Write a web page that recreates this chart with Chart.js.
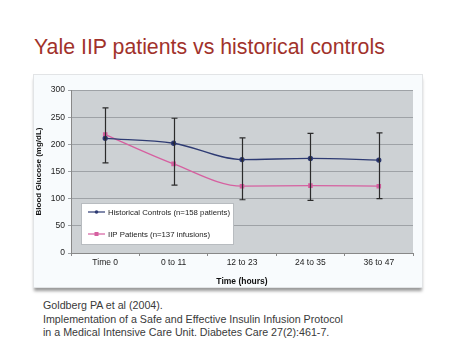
<!DOCTYPE html>
<html>
<head>
<meta charset="utf-8">
<script src="https://cdn.jsdelivr.net/npm/chart.js@4"></script>
<style>
  html, body { margin:0; padding:0; background:#fff; width:474px; height:355px; overflow:hidden; font-family:"Liberation Sans", Arial, sans-serif; }
  #title { position:absolute; left:34px; top:35px; font-size:21.3px; color:#a1322b; white-space:nowrap; }
  #frame { position:absolute; left:33px; top:74px; width:388px; height:212px; background:#f8fbfd; border:1px solid #e2e4e6; box-shadow:0 4px 3px -1px #9a9a9a; }
  #cite { position:absolute; left:43px; top:299px; font-size:10.7px; line-height:13.5px; color:#3a3a3a; white-space:nowrap; }
</style>
</head>
<body>
<div id="title">Yale IIP patients vs historical controls</div>
<div id="frame"><canvas id="c" width="388" height="212"></canvas></div>
<div id="cite">Goldberg PA et al (2004).<br>Implementation of a Safe and Effective Insulin Infusion Protocol<br>in a Medical Intensive Care Unit. Diabetes Care 27(2):461-7.</div>
<script>
const categories = ["Time 0", "0 to 11", "12 to 23", "24 to 35", "36 to 47"];
const historical = [211, 202, 172, 174, 171];
const iip = [218, 164, 123, 124, 123];
const historicalUpper = [267, 248, 212, 220, 221];
const iipLower = [166, 125, 98, 97, 100];
const yTicks = [0, 50, 100, 150, 200, 250, 300];
const legendLabels = ["Historical Controls (n=158 patients)", "IIP Patients (n=137 infusions)"];

const plotBg = {
  id: 'plotBg',
  beforeDraw(chart) {
    const {ctx, chartArea:a} = chart;
    ctx.save();
    ctx.fillStyle = '#cdd1d4';
    ctx.fillRect(a.left, a.top, a.right - a.left, a.bottom - a.top);
    ctx.restore();
  }
};

const errBars = {
  id: 'errBars',
  afterDatasetsDraw(chart) {
    const {ctx} = chart;
    const x = chart.scales.x, y = chart.scales.y;
    ctx.save();
    ctx.strokeStyle = '#2b2b2b';
    ctx.lineWidth = 1.2;
    categories.forEach((c, i) => {
      const px = Math.round(x.getPixelForValue(i)) + 0.5;
      const top = y.getPixelForValue(historicalUpper[i]);
      const bot = y.getPixelForValue(iipLower[i]);
      ctx.beginPath();
      ctx.moveTo(px, top); ctx.lineTo(px, bot);
      ctx.moveTo(px - 3, top); ctx.lineTo(px + 3, top);
      ctx.moveTo(px - 3, bot); ctx.lineTo(px + 3, bot);
      ctx.stroke();
    });
    ctx.restore();
  }
};

const boxLegend = {
  id: 'boxLegend',
  afterDraw(chart) {
    const {ctx} = chart;
    const L = 47, T = 128, W = 152, H = 41;
    ctx.save();
    ctx.fillStyle = '#ffffff';
    ctx.fillRect(L, T, W, H);
    ctx.strokeStyle = '#b8bcc0';
    ctx.lineWidth = 1;
    ctx.strokeRect(L + 0.5, T + 0.5, W, H);
    const items = [
      {y: T + 9, color: '#2e3b73', shape: 'circle'},
      {y: T + 31, color: '#d660a0', shape: 'rect'}
    ];
    ctx.font = '7.8px "Liberation Sans", Arial, sans-serif';
    ctx.textBaseline = 'middle';
    items.forEach((it, k) => {
      ctx.strokeStyle = it.color;
      ctx.lineWidth = 1.2;
      ctx.beginPath(); ctx.moveTo(L + 7, it.y); ctx.lineTo(L + 24, it.y); ctx.stroke();
      ctx.fillStyle = it.color;
      if (it.shape === 'circle') { ctx.beginPath(); ctx.arc(L + 15.5, it.y, 1.8, 0, Math.PI*2); ctx.fill(); }
      else ctx.fillRect(L + 13.5, it.y - 2, 4, 4);
      ctx.fillStyle = '#222';
      ctx.fillText(legendLabels[k], L + 27, it.y + 0.5);
    });
    ctx.restore();
  }
};

new Chart(document.getElementById('c'), {
  type: 'line',
  data: {
    labels: categories,
    datasets: [
      { label: legendLabels[0], data: historical, borderColor: '#2e3b73', backgroundColor: '#1e2550',
        borderWidth: 1.3, pointRadius: 2, pointStyle: 'circle', tension: 0.4, cubicInterpolationMode: 'monotone' },
      { label: legendLabels[1], data: iip, borderColor: '#d660a0', backgroundColor: '#d660a0',
        borderWidth: 1.3, pointRadius: 2.3, pointStyle: 'rect', tension: 0.4, cubicInterpolationMode: 'monotone' }
    ]
  },
  options: {
    responsive: false,
    animation: false,
    events: [],
    layout: { padding: { left: 0, top: 15, right: 9, bottom: 0 } },
    plugins: { legend: { display: false }, tooltip: { enabled: false } },
    scales: {
      x: {
        offset: true,
        grid: { display: true, drawOnChartArea: false, offset: true, color: '#888', tickLength: 3 },
        border: { color: '#888' },
        ticks: { color: '#222', font: { size: 8.5, family: '"Liberation Sans", Arial, sans-serif' }, padding: 2 },
        title: { display: true, text: 'Time (hours)', color: '#111', font: { size: 8.5, weight: 'bold', family: '"Liberation Sans", Arial, sans-serif' }, padding: { top: 1, bottom: 0 } },
        afterFit(s) { s.height = 34; }
      },
      y: {
        min: 0, max: 300,
        afterBuildTicks(s) { s.ticks = yTicks.map(v => ({ value: v })); },
        grid: { color: '#9ea2a6', tickLength: 3, lineWidth: 1 },
        border: { color: '#888' },
        ticks: { color: '#222', font: { size: 8.5, family: '"Liberation Sans", Arial, sans-serif' }, padding: 3 },
        title: { display: true, text: 'Blood Glucose (mg/dL)', color: '#111', font: { size: 8, weight: 'bold', family: '"Liberation Sans", Arial, sans-serif' }, padding: { top: 0, bottom: 1 } },
        afterFit(s) { s.width = 37; }
      }
    }
  },
  plugins: [plotBg, errBars, boxLegend]
});
</script>
</body>
</html>
